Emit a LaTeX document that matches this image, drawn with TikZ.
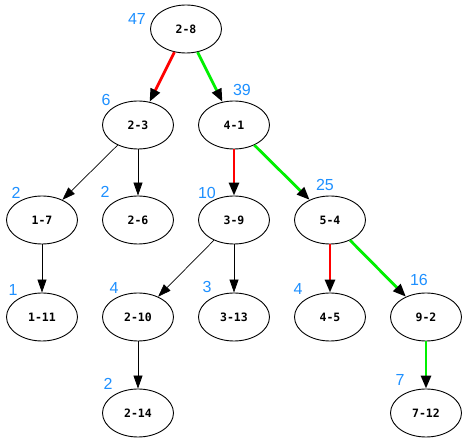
\documentclass[tikz,border=0pt]{standalone}
\usepackage{fontspec}
\setmainfont{Liberation Sans}
\newfontfamily\nodefont{DejaVu Sans Mono}
\usetikzlibrary{shapes.geometric,arrows.meta}
\definecolor{lblblue}{RGB}{30,144,255}
\definecolor{edgered}{RGB}{255,0,0}
\definecolor{edgegreen}{RGB}{0,240,0}
\tikzset{
  tnode/.style={ellipse,draw=black,line width=0.9pt,minimum width=71pt,minimum height=48pt,inner sep=0pt,font=\nodefont\bfseries\fontsize{11.5}{13}\selectfont},
  cnt/.style={text=lblblue,font=\fontsize{16}{18}\selectfont,inner sep=0pt},
  plain/.style={draw=black,line width=0.7pt,-{Triangle[length=13pt,width=9pt]}},
  redge/.style={draw=edgered,line width=2.8pt,-{Triangle[length=13pt,width=10pt,black]}},
  gedge/.style={draw=edgegreen,line width=2.8pt,-{Triangle[length=13pt,width=10pt,black]}}
}
\begin{document}
\begin{tikzpicture}[x=1pt,y=-1pt]
\useasboundingbox[fill=white] (0,0) rectangle (467,443);
\node[tnode] (n28) at (186,29) {2-8};
\node[tnode] (n23) at (138,125) {2-3};
\node[tnode] (n41) at (234,125) {4-1};
\node[tnode] (n17) at (42,220) {1-7};
\node[tnode] (n26) at (138,220) {2-6};
\node[tnode] (n39) at (234,220) {3-9};
\node[tnode] (n54) at (330,220) {5-4};
\node[tnode] (n111) at (42,317) {1-11};
\node[tnode] (n210) at (138,317) {2-10};
\node[tnode] (n313) at (234,317) {3-13};
\node[tnode] (n45) at (330,317) {4-5};
\node[tnode] (n92) at (426,317) {9-2};
\node[tnode] (n214) at (138,413) {2-14};
\node[tnode] (n712) at (426,413) {7-12};

\node[cnt] (c28) at (137,19) {47};
\node[cnt] (c23) at (106,100) {6};
\node[cnt] (c41) at (242,90) {39};
\node[cnt] (c17) at (16,193) {2};
\node[cnt] (c26) at (105,192) {2};
\node[cnt] (c39) at (207,193) {10};
\node[cnt] (c54) at (325,185) {25};
\node[cnt] (c111) at (13,290) {1};
\node[cnt] (c210) at (114,288) {4};
\node[cnt] (c313) at (207,287) {3};
\node[cnt] (c45) at (298,289) {4};
\node[cnt] (c92) at (419,280) {16};
\node[cnt] (c214) at (108,384) {2};
\node[cnt] (c712) at (400,380) {7};

\draw[redge] (n28) -- (n23);
\draw[gedge] (n28) -- (n41);
\draw[plain] (n23) -- (n17);
\draw[plain] (n23) -- (n26);
\draw[redge] (n41) -- (n39);
\draw[gedge] (n41) -- (n54);
\draw[plain] (n17) -- (n111);
\draw[plain] (n39) -- (n210);
\draw[plain] (n39) -- (n313);
\draw[redge] (n54) -- (n45);
\draw[gedge] (n54) -- (n92);
\draw[plain] (n210) -- (n214);
\draw[gedge] (n92) -- (n712);
\end{tikzpicture}
\end{document}
